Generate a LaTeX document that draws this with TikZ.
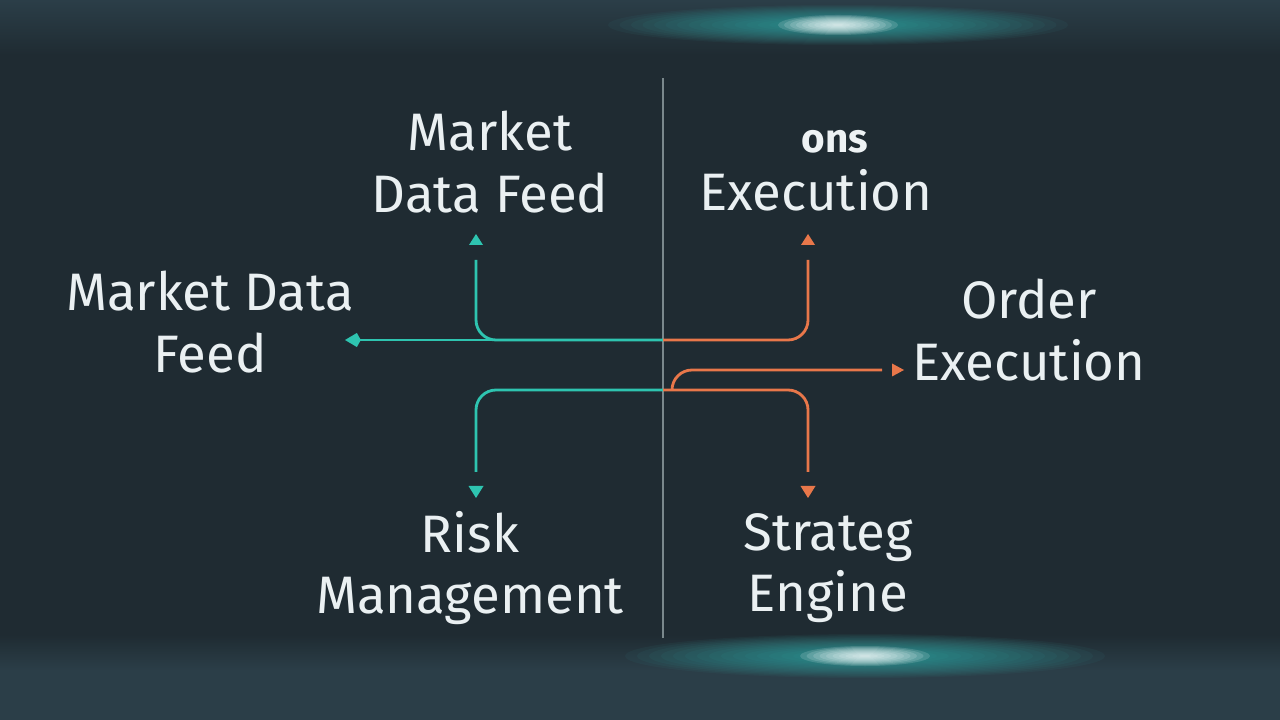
\documentclass[tikz,border=0pt]{standalone}
\usepackage{fontspec}
\setmainfont{Fira Sans}
\usepackage[HTML]{xcolor}
\usetikzlibrary{positioning, arrows.meta}

\definecolor{bgdark}{HTML}{1F2B32}
\definecolor{bandc}{HTML}{2B3E48}
\definecolor{tealc}{HTML}{2EC4B0}
\definecolor{orangec}{HTML}{E8774A}
\definecolor{axisc}{HTML}{7A888C}
\definecolor{txtc}{HTML}{EAF0F2}
\definecolor{glowc}{HTML}{3FD6D0}

\begin{document}
\begin{tikzpicture}[
  lbl/.style={text=txtc, align=center, font=\fontsize{15}{17.5}\selectfont},
  tealln/.style={draw=tealc, line width=0.8pt, rounded corners=0.2cm},
  orgln/.style={draw=orangec, line width=0.8pt, rounded corners=0.2cm},
  gap/.style={shorten >=0.26cm}
]
% background and glowing bands
\fill[bgdark] (0,0) rectangle (12.8,-7.2);
\shade[top color=bandc, bottom color=bgdark] (0,0) rectangle (12.8,-0.55);
\shade[top color=bgdark, bottom color=bandc] (0,-6.35) rectangle (12.8,-6.7);
\fill[bandc] (0,-6.7) rectangle (12.8,-7.2);
\foreach \k in {1,...,20}
  \fill[glowc, opacity=0.045] (8.38,-0.25) ellipse ({2.3*\k/20} and {0.2*\k/20});
\foreach \k in {1,...,10}
  \fill[white, opacity=0.14] (8.38,-0.25) ellipse ({0.6*\k/10} and {0.1*\k/10});
\foreach \k in {1,...,20}
  \fill[glowc, opacity=0.045] (8.65,-6.56) ellipse ({2.4*\k/20} and {0.22*\k/20});
\foreach \k in {1,...,10}
  \fill[white, opacity=0.14] (8.65,-6.56) ellipse ({0.65*\k/10} and {0.1*\k/10});
\useasboundingbox (0,0) rectangle (12.8,-7.2);

% labels
\node[lbl] (mdfTop)    at (4.90,-1.62) {Market\\Data Feed};
\node[lbl, font=\fontsize{11.5}{12}\selectfont\bfseries, text=txtc!85] (onsLbl) at (8.35,-1.42) {ons};
\node[lbl] (exec)      at (8.16,-1.90) {Execution};
\node[lbl] (mdfLeft)   at (2.10,-3.22) {Market Data\\Feed};
\node[lbl] (orderExec) at (10.29,-3.30) {Order\\Execution};
\node[lbl] (risk)      at (4.70,-5.68) {Risk\\Management};
\node[lbl] (strategy)  at (8.28,-5.68) {Strateg\\Engine};

% divider and hub points
\coordinate (axTop) at (6.63,-0.78);
\coordinate (axBot) at (6.63,-6.38);
\coordinate (hubA)  at (6.63,-3.40);
\coordinate (hubB)  at (6.63,-3.90);
\draw[axisc, line width=0.7pt] (axTop) -- (axBot);

\coordinate (tipMkt)   at (4.76,-2.34);
\coordinate (tipExec)  at (8.08,-2.34);
\coordinate (tipLeft)  at (3.45,-3.40);
\coordinate (tipOrder) at (9.04,-3.70);
\coordinate (tipRisk)  at (4.76,-4.98);
\coordinate (tipStrat) at (8.08,-4.98);

% upper connectors
\draw[tealln, -{Kite[width=4pt,length=4.5pt]}] (hubA) -- (tipLeft);
\draw[tealln, gap] (hubA) -- (tipMkt |- hubA) -- (tipMkt);
\draw[orgln, gap] (hubA) -- (tipExec |- hubA) -- (tipExec);
\fill[tealc] (tipMkt) -- +(-0.07,-0.11) -- +(0.07,-0.11) -- cycle;
\fill[orangec] (tipExec) -- +(-0.07,-0.11) -- +(0.07,-0.11) -- cycle;

% lower connectors
\draw[orgln, shorten >=0.22cm] (6.72,-3.90) -- (6.72,-3.70) -- (tipOrder);
\draw[tealln, gap] (hubB) -- (tipRisk |- hubB) -- (tipRisk);
\draw[orgln, gap] (hubB) -- (tipStrat |- hubB) -- (tipStrat);
\fill[orangec] (tipOrder) -- +(-0.12,0.065) -- +(-0.12,-0.065) -- cycle;
\fill[tealc] (tipRisk) -- +(-0.075,0.12) -- +(0.075,0.12) -- cycle;
\fill[orangec] (tipStrat) -- +(-0.075,0.12) -- +(0.075,0.12) -- cycle;
\end{tikzpicture}
\end{document}
